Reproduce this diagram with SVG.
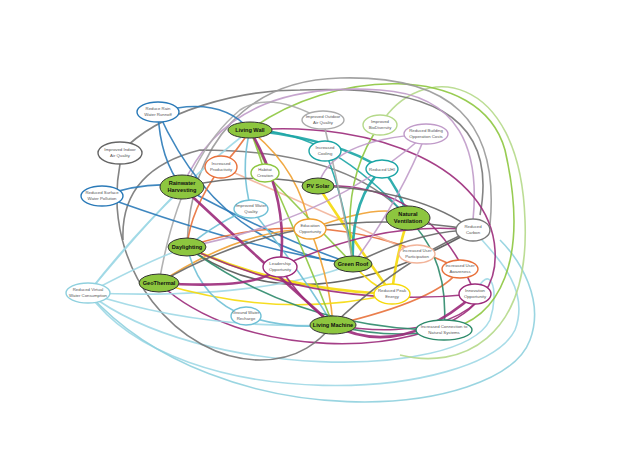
<svg xmlns="http://www.w3.org/2000/svg" width="638" height="451" viewBox="0 0 638 451">
<style>
.c{fill:none;stroke-width:1.6;opacity:.9}
.t{stroke-width:2.6}
.g ellipse{fill:#8dc63f;stroke:#333;stroke-width:1}
.g text{font-family:"Liberation Sans",Arial,sans-serif;font-size:5.6px;font-weight:bold;fill:#111;text-anchor:middle}
.o ellipse{fill:#fff;stroke-width:1.4}
.o text{font-family:"Liberation Sans",Arial,sans-serif;font-size:4.3px;fill:#555;text-anchor:middle}
</style>
<rect width="638" height="451" fill="#fff"/>
<g id="connectors">
<!-- big outer loops -->
<path class="c" stroke="#9fd8e6" d="M88 293 C180 420 480 400 515 330 C530 290 500 260 473 230"/>
<path class="c" stroke="#9fd8e6" d="M88 293 C200 380 460 380 490 320 C500 290 490 260 475 294"/>
<path class="c" stroke="#8fd0de" d="M88 293 C220 440 500 420 530 340 C545 300 520 260 500 240"/>
<path class="c" stroke="#b5d98a" d="M380 125 C420 60 520 70 525 220 C530 340 460 370 400 355"/>
<path class="c" stroke="#8dc63f" d="M250 130 C330 70 480 60 505 150 C530 260 500 320 444 330"/>
<path class="c" stroke="#777" d="M120 153 C160 110 240 90 300 90 C420 85 500 110 480 215"/>
<path class="c" stroke="#999" d="M187 247 C190 140 250 80 340 78 C450 75 500 120 490 225"/>
<path class="c" stroke="#c09bc9" d="M182 187 C220 100 300 85 380 90 C460 95 480 150 473 220"/>
<path class="c" stroke="#9b2a7a" d="M250 130 C380 120 490 170 495 250 C500 320 420 340 333 325"/>
<path class="c" stroke="#9b2a7a" d="M159 283 C240 360 420 360 475 304"/>
<path class="c" stroke="#777" d="M120 164 C100 270 180 360 260 360 C300 360 320 340 333 325"/>
<path class="c" stroke="#777" d="M123 240 Q120 170 200 150 Q350 150 408 218"/>
<path class="c" stroke="#555" d="M187 247 Q300 330 473 230"/>
<path class="c" stroke="#aaa" d="M323 120 Q270 90 240 110 Q180 160 159 283"/>
<path class="c" stroke="#9fd8e6" d="M88 293 Q160 200 250 130"/>
<path class="c" stroke="#9fd8e6" d="M88 293 Q150 260 187 247"/>
<path class="c" stroke="#9fd8e6" d="M88 293 Q200 330 333 325"/>
<path class="c" stroke="#9fd8e6" d="M88 293 Q140 230 182 187"/>
<path class="c" stroke="#9fd8e6" d="M88 293 Q260 300 353 264"/>
<!-- blue -->
<path class="c" stroke="#2a7ab8" d="M158 112 Q220 95 250 130"/>
<path class="c" stroke="#2a7ab8" d="M158 112 Q160 160 182 187"/>
<path class="c" stroke="#2a7ab8" d="M158 112 Q220 250 353 264"/>
<path class="c" stroke="#2a7ab8" d="M102 196 Q150 180 182 187"/>
<path class="c" stroke="#2a7ab8" d="M102 196 Q250 250 353 264"/>
<path class="c" stroke="#2a7ab8" d="M182 187 Q280 240 353 264"/>
<!-- orange -->
<path class="c" stroke="#e8703a" d="M221 167 Q190 210 187 247"/>
<path class="c" stroke="#e8703a" d="M221 167 Q238 150 250 130"/>
<path class="c" stroke="#e8703a" d="M187 247 Q320 200 460 269"/>
<path class="c" stroke="#e8703a" d="M333 325 Q440 300 460 269"/>
<path class="c" stroke="#f2b49a" d="M221 167 Q320 210 417 254"/>
<path class="c" stroke="#f0a030" d="M250 130 Q300 170 310 229"/>
<path class="c" stroke="#f0a030" d="M159 283 Q240 230 310 229"/>
<path class="c" stroke="#f0a030" d="M310 229 Q330 280 333 325"/>
<path class="c" stroke="#f0a030" d="M310 229 Q390 200 408 218"/>
<!-- yellow -->
<path class="c t" stroke="#f5d90a" d="M318 186 Q360 250 392 294"/>
<path class="c t" stroke="#f5d90a" d="M187 247 Q280 290 392 294"/>
<path class="c" stroke="#f5d90a" d="M159 283 Q280 320 392 294"/>
<path class="c t" stroke="#f5d90a" d="M408 218 Q395 260 392 294"/>
<path class="c" stroke="#f5d90a" d="M353 264 Q370 285 392 294"/>
<!-- teal -->
<path class="c t" stroke="#1ba5a5" d="M250 130 Q340 140 382 169"/>
<path class="c t" stroke="#1ba5a5" d="M382 169 Q350 200 353 264"/>
<path class="c t" stroke="#1ba5a5" d="M382 169 Q400 190 408 218"/>
<path class="c" stroke="#1ba5a5" d="M325 151 Q345 200 353 264"/>
<path class="c" stroke="#1ba5a5" d="M250 130 Q330 130 408 218"/>
<path class="c" stroke="#6fc0d6" d="M251 209 Q220 220 187 247"/>
<path class="c" stroke="#6fc0d6" d="M251 209 Q300 270 333 325"/>
<path class="c" stroke="#6fc0d6" d="M250 130 Q240 170 251 209"/>
<path class="c" stroke="#6fc0d6" d="M246 316 Q200 300 187 247"/>
<path class="c" stroke="#6fc0d6" d="M246 316 Q290 330 333 325"/>
<path class="c" stroke="#2c8a6a" d="M187 247 Q300 330 444 330"/>
<path class="c" stroke="#2c8a6a" d="M333 325 Q390 340 444 330"/>
<path class="c" stroke="#2c8a6a" d="M408 218 Q450 260 444 330"/>
<!-- green -->
<path class="c" stroke="#8dc63f" d="M265 173 Q258 150 250 130"/>
<path class="c" stroke="#8dc63f" d="M265 173 Q320 230 353 264"/>
<path class="c" stroke="#8dc63f" d="M380 125 Q340 180 353 264"/>
<path class="c" stroke="#8dc63f" d="M250 130 Q300 240 333 325"/>
<!-- purple -->
<path class="c t" stroke="#9b2a7a" d="M182 187 Q260 260 333 325"/>
<path class="c t" stroke="#9b2a7a" d="M250 130 Q290 200 280 267"/>
<path class="c t" stroke="#9b2a7a" d="M159 283 Q260 290 280 267"/>
<path class="c" stroke="#9b2a7a" d="M280 267 Q380 220 473 230"/>
<path class="c" stroke="#9b2a7a" d="M280 267 Q300 300 333 325"/>
<path class="c t" stroke="#9b2a7a" d="M333 325 Q400 360 475 294"/>
<path class="c" stroke="#9b2a7a" d="M318 186 Q430 180 475 294"/>
<path class="c" stroke="#9b2a7a" d="M187 247 Q320 310 475 294"/>
<path class="c" stroke="#c09bc9" d="M426 134 Q330 140 318 186"/>
<path class="c" stroke="#c09bc9" d="M426 134 Q400 200 353 264"/>
<path class="c" stroke="#c09bc9" d="M187 247 Q330 220 426 134"/>
<!-- greys -->
<path class="c" stroke="#666" d="M318 186 Q420 190 473 230"/>
<path class="c" stroke="#666" d="M353 264 Q420 230 473 230"/>
<path class="c" stroke="#666" d="M333 325 Q400 260 473 230"/>
<path class="c" stroke="#666" d="M159 283 Q300 200 473 230"/>
<path class="c" stroke="#aaa" d="M323 120 Q340 190 353 264"/>
<path class="c" stroke="#666" d="M182 187 Q260 170 318 186"/>
</g>
<g id="living-wall" class="g"><ellipse cx="250" cy="130" rx="22" ry="8"/><text x="250" y="132">Living Wall</text></g>
<g id="rainwater-harvesting" class="g"><ellipse cx="182" cy="187" rx="22" ry="12"/><text x="182" y="185">Rainwater</text><text x="182" y="192">Harvesting</text></g>
<g id="pv-solar" class="g"><ellipse cx="318" cy="186" rx="16" ry="8"/><text x="318" y="188">PV Solar</text></g>
<g id="natural-ventilation" class="g"><ellipse cx="408" cy="218" rx="22" ry="12"/><text x="408" y="216">Natural</text><text x="408" y="223">Ventilation</text></g>
<g id="daylighting" class="g"><ellipse cx="187" cy="247" rx="19" ry="9"/><text x="187" y="249">Daylighting</text></g>
<g id="geothermal" class="g"><ellipse cx="159" cy="283" rx="20" ry="9"/><text x="159" y="285">GeoThermal</text></g>
<g id="green-roof" class="g"><ellipse cx="353" cy="264" rx="19" ry="8"/><text x="353" y="266">Green Roof</text></g>
<g id="living-machine" class="g"><ellipse cx="333" cy="325" rx="23" ry="9"/><text x="333" y="327">Living Machine</text></g>

<g id="reduce-rain-water-runoff" class="o"><ellipse cx="158" cy="112" rx="21" ry="10" stroke="#2a7ab8"/><text x="158" y="110">Reduce Rain</text><text x="158" y="116">Water Runnoff</text></g>
<g id="improved-indoor-air-quality" class="o"><ellipse cx="120" cy="153" rx="22" ry="11" stroke="#666"/><text x="120" y="151">Improved Indoor</text><text x="120" y="157">Air Quality</text></g>
<g id="reduced-surface-water-pollution" class="o"><ellipse cx="102" cy="196" rx="21" ry="10" stroke="#2a7ab8"/><text x="102" y="194">Reduced Surface</text><text x="102" y="200">Water Pollution</text></g>
<g id="increased-productivity" class="o"><ellipse cx="221" cy="167" rx="16" ry="11" stroke="#e8703a"/><text x="221" y="165">Increased</text><text x="221" y="171">Productivity</text></g>
<g id="habitat-creation" class="o"><ellipse cx="265" cy="173" rx="14" ry="9" stroke="#8dc63f"/><text x="265" y="171">Habitat</text><text x="265" y="177">Creation</text></g>
<g id="improved-water-quality" class="o"><ellipse cx="251" cy="209" rx="17" ry="9" stroke="#6fc0d6"/><text x="251" y="207">Improved Water</text><text x="251" y="213">Quality</text></g>
<g id="improved-outdoor-air-quality" class="o"><ellipse cx="323" cy="120" rx="21" ry="9" stroke="#aaa"/><text x="323" y="118">Improved Outdoor</text><text x="323" y="124">Air Quality</text></g>
<g id="improved-biodiversity" class="o"><ellipse cx="380" cy="125" rx="17" ry="10" stroke="#b5d98a"/><text x="380" y="123">Improved</text><text x="380" y="129">BioDiversity</text></g>
<g id="reduced-building-opperation-costs" class="o"><ellipse cx="426" cy="134" rx="22" ry="10" stroke="#c09bc9"/><text x="426" y="132">Reduced Building</text><text x="426" y="138">Opperation Costs</text></g>
<g id="increased-cooling" class="o"><ellipse cx="325" cy="151" rx="16" ry="10" stroke="#1ba5a5"/><text x="325" y="149">Increased</text><text x="325" y="155">Cooling</text></g>
<g id="reduced-uhi" class="o"><ellipse cx="382" cy="169" rx="16" ry="9" stroke="#1ba5a5"/><text x="382" y="171">Reduced UHI</text></g>
<g id="education-opportunity" class="o"><ellipse cx="310" cy="229" rx="16" ry="10" stroke="#f0a030"/><text x="310" y="227">Education</text><text x="310" y="233">Opportunity</text></g>
<g id="reduced-carbon" class="o"><ellipse cx="473" cy="230" rx="17" ry="11" stroke="#777"/><text x="473" y="228">Reduced</text><text x="473" y="234">Carbon</text></g>
<g id="increased-user-participation" class="o"><ellipse cx="417" cy="254" rx="18" ry="9" stroke="#f2b49a"/><text x="417" y="252">Increased User</text><text x="417" y="258">Participation</text></g>
<g id="increased-user-awareness" class="o"><ellipse cx="460" cy="269" rx="18" ry="9" stroke="#e8703a"/><text x="460" y="267">Increased User</text><text x="460" y="273">Awareness</text></g>
<g id="leadership-opportunity" class="o"><ellipse cx="280" cy="267" rx="17" ry="10" stroke="#9b2a7a"/><text x="280" y="265">Leadership</text><text x="280" y="271">Opportunity</text></g>
<g id="reduced-peak-energy" class="o"><ellipse cx="392" cy="294" rx="18" ry="10" stroke="#f5d90a"/><text x="392" y="292">Reduced Peak</text><text x="392" y="298">Energy</text></g>
<g id="innovation-opportunity" class="o"><ellipse cx="475" cy="294" rx="16" ry="10" stroke="#9b2a7a"/><text x="475" y="292">Innovation</text><text x="475" y="298">Opportunity</text></g>
<g id="reduced-virtual-water-consumption" class="o"><ellipse cx="88" cy="293" rx="22" ry="10" stroke="#8fd0de"/><text x="88" y="291">Reduced Virtual</text><text x="88" y="297">Water Consumption</text></g>
<g id="ground-water-recharge" class="o"><ellipse cx="246" cy="316" rx="15" ry="9" stroke="#6fc0d6"/><text x="246" y="314">Ground Water</text><text x="246" y="320">Recharge</text></g>
<g id="increased-connection-to-natural-systems" class="o"><ellipse cx="444" cy="330" rx="28" ry="10" stroke="#2c8a6a"/><text x="444" y="328">Increased Connection to</text><text x="444" y="334">Natural Systems</text></g>
</svg>
